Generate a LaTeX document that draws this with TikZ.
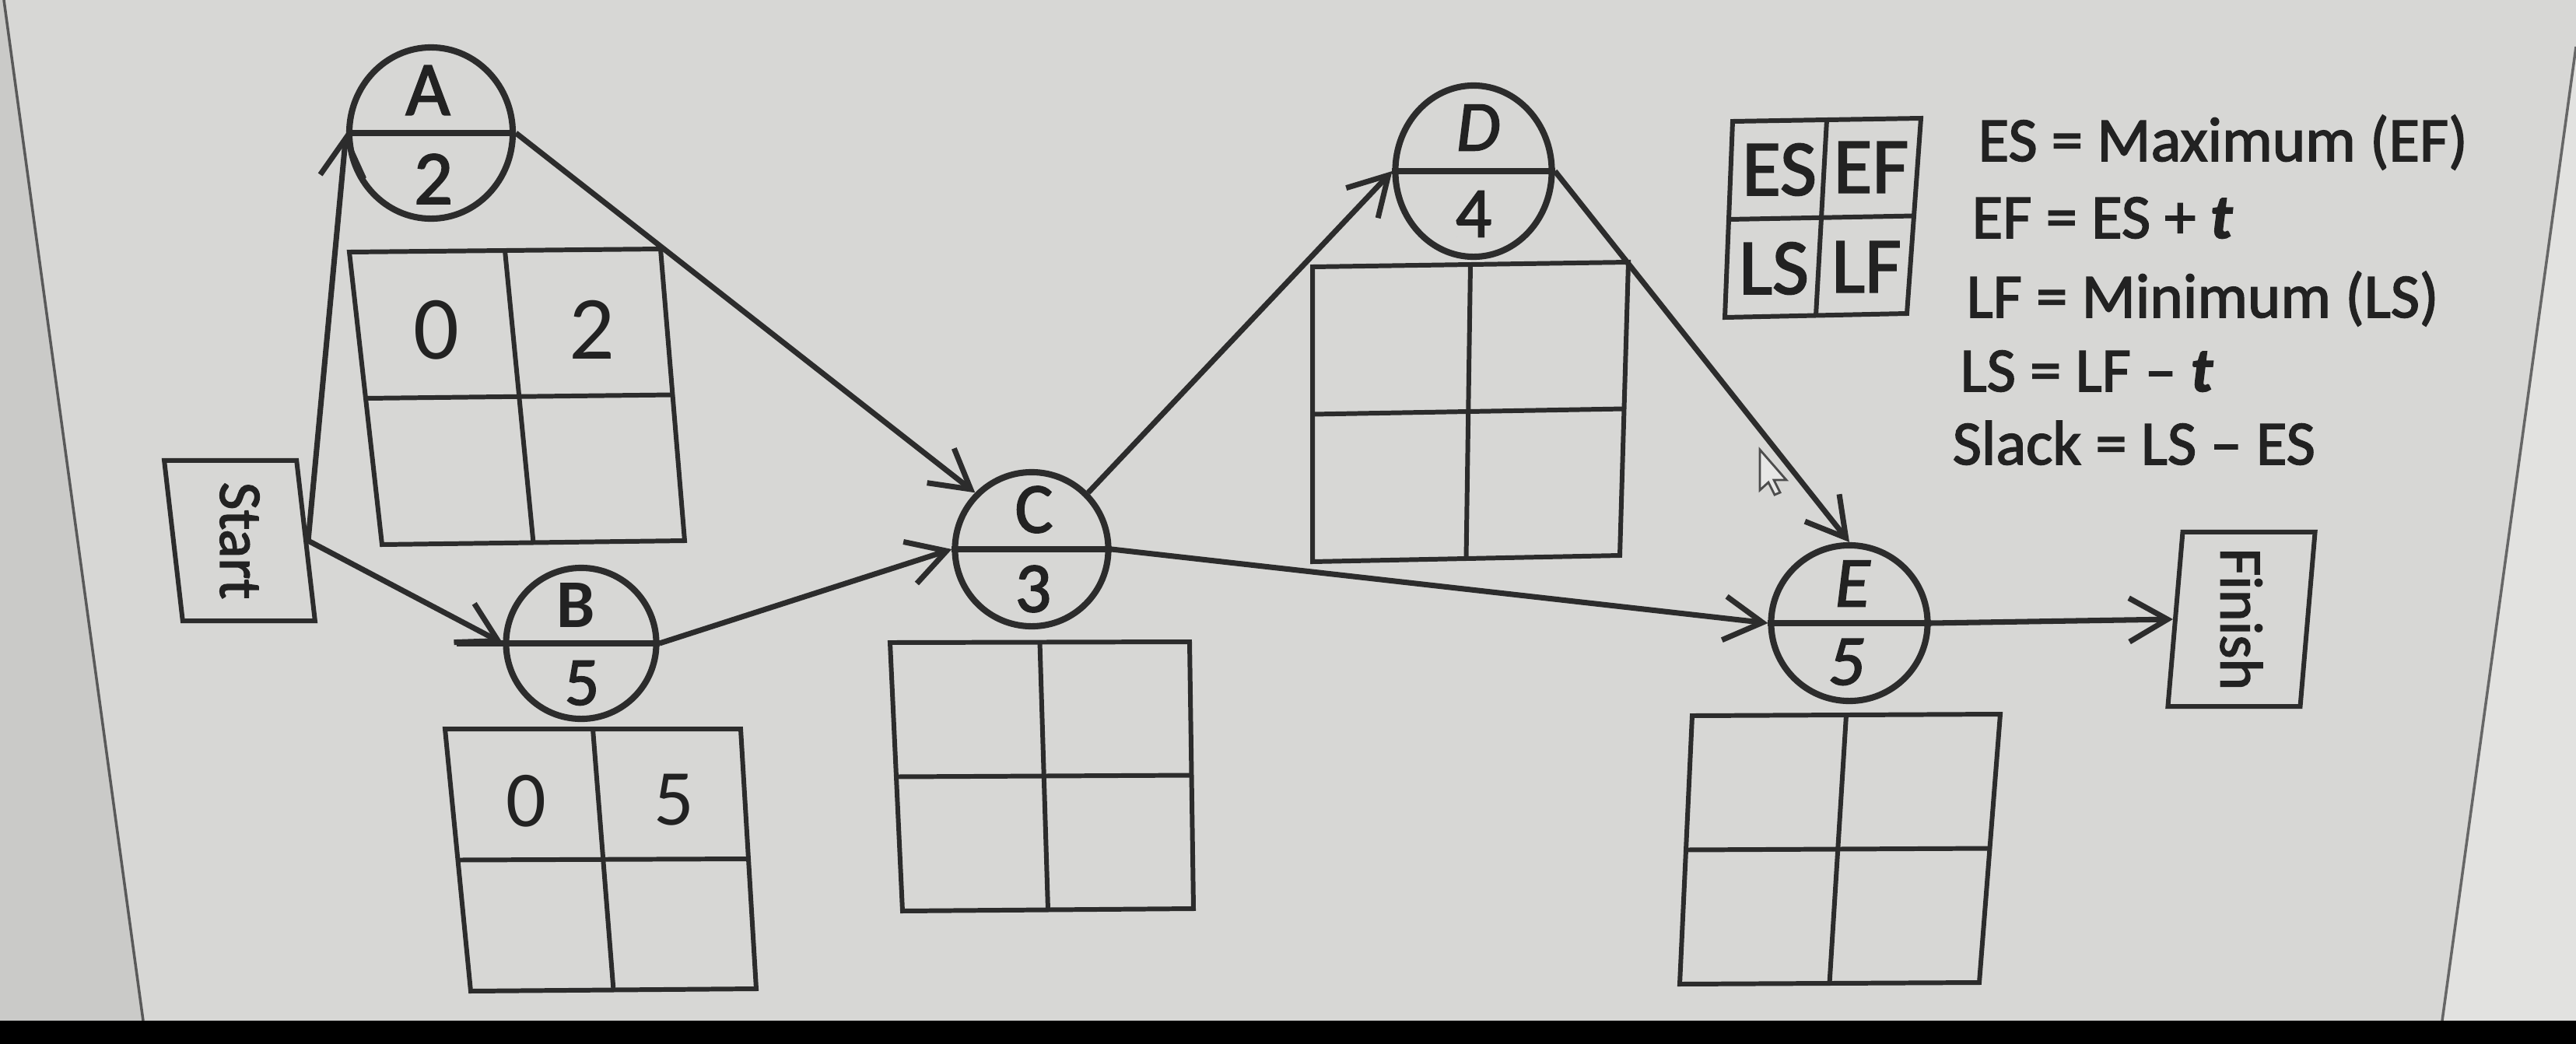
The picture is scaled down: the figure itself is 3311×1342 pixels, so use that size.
\documentclass[tikz,border=0pt]{standalone}
\usepackage{fontspec}
\usepackage{graphicx}
\setmainfont{Carlito}
\newfontfamily\medfont[FakeBold=2]{Carlito}
\usetikzlibrary{shapes.geometric,arrows.meta,calc}
\definecolor{bgmain}{HTML}{D7D7D5}
\definecolor{bgleft}{HTML}{CACAC8}
\definecolor{bgright}{HTML}{E2E2E0}
\definecolor{ink}{HTML}{2C2C2C}
\definecolor{inktext}{HTML}{222222}
\newcommand\pertgrid[4]{%
  \draw[grd] #1 -- #2 -- #3 -- #4 -- cycle;
  \draw[grd] ($#1!0.5!#2$) -- ($#4!0.5!#3$);
  \draw[grd] ($#1!0.5!#4$) -- ($#2!0.5!#3$);}
\newcommand\fs[1]{\fontsize{#1}{#1}\selectfont}
\begin{document}
\begin{tikzpicture}[x=0.01cm,y=-0.01cm]
\tikzset{
  circ/.style={ellipse, draw=ink, line width=2.3pt, inner sep=0pt},
  divl/.style={draw=ink, line width=2.3pt},
  arr/.style={draw=ink, line width=2pt, -{Straight Barb[length=14pt,width=16pt]}},
  grd/.style={draw=ink, line width=1.7pt},
  txt/.style={text=inktext, inner sep=0pt},
  endbox/.style={draw=ink, line width=1.7pt, inner sep=0pt},
  endlbl/.style={txt, rotate=-90, font=\medfont\fs{22pt}},
  eq/.style={txt, font=\medfont\fs{23pt}, anchor=base west},
}
% background (photo of a screen)
\useasboundingbox (0,0) rectangle (3311,1342);
\fill[bgmain] (0,0) rectangle (3311,1342);
\fill[bgleft] (0,0) -- (5,0) -- (184,1312) -- (0,1312) -- cycle;
\fill[bgright] (3311,60) -- (3139,1312) -- (3311,1312) -- cycle;
\draw[gray!70!black, line width=1pt] (5,0) -- (184,1312);
\draw[gray!80!black, line width=1pt] (3311,60) -- (3139,1312);
\fill[black] (0,1312) rectangle (3311,1342);

% start / finish
\node[endbox, xslant=-0.115, minimum width=1.70cm, minimum height=2.06cm] (Start) at (308,695) {};
\node[endlbl] (Startlbl) at (Start.center) {Start};
\node[endbox, xslant=0.085, minimum width=1.70cm, minimum height=2.24cm] (Finish) at (2881,796) {};
\node[endlbl] (Finishlbl) at (Finish.center) {Finish};

% activity circles
\node[circ, minimum width=2.10cm, minimum height=2.20cm] (A) at (554,171) {};
\node[circ, minimum width=1.93cm, minimum height=1.94cm] (B) at (747,827) {};
\node[circ, minimum width=1.97cm, minimum height=1.98cm] (C) at (1326,706) {};
\node[circ, minimum width=2.01cm, minimum height=2.20cm] (D) at (1894,220) {};
\node[circ, minimum width=2.01cm, minimum height=2.00cm] (E) at (2377,801) {};
\draw[divl] (A.west) -- (A.east);
\draw[divl] ($(B.west)+(-59,0)$) -- (B.east);
\draw[divl] (C.west) -- (C.east);
\draw[divl] (D.west) -- (D.east);
\draw[divl] (E.west) -- (E.east);

\node[txt, font=\medfont\fs{28pt}] (Aname) at (550,116) {A};
\node[txt, font=\medfont\fs{28pt}] (Adur) at (557,230) {2};
\node[txt, font=\bfseries\fs{25pt}] (Bname) at (740,778) {B};
\node[txt, font=\medfont\fs{25pt}] (Bdur) at (748,878) {5};
\node[txt, font=\medfont\fs{26pt}] (Cname) at (1329,655) {C};
\node[txt, font=\medfont\fs{26pt}] (Cdur) at (1328,757) {3};
\node[txt, font=\medfont\fs{26pt}\itshape] (Dname) at (1900,164) {D};
\node[txt, font=\medfont\fs{26pt}] (Ddur) at (1894,275) {4};
\node[txt, font=\medfont\fs{26pt}\itshape] (Ename) at (2381,750) {E};
\node[txt, font=\medfont\fs{26pt}\itshape] (Edur) at (2373,851) {5};

% connectors
\draw[arr] (Start.east) -- (A.west);
\draw[arr] (Start.east) -- (B.west);
\draw[arr] (A.east) -- (C.135);
\draw[arr] (B.east) -- (C.west);
\draw[arr] (C.45) -- (D.west);
\draw[arr] (C.east) -- (E.west);
\draw[arr] (D.east) -- (E.north);
\draw[arr] (E.east) -- (Finish.west);

% time grids
\pertgrid{(449,324)}{(849,320)}{(880,695)}{(491,700)}
\pertgrid{(572,937)}{(952,937)}{(972,1271)}{(605,1274)}
\pertgrid{(1144,826)}{(1529,825)}{(1534,1168)}{(1160,1171)}
\pertgrid{(1687,343)}{(2093,337)}{(2082,714)}{(1687,722)}
\pertgrid{(2175,920)}{(2571,918)}{(2544,1263)}{(2159,1265)}
\node[txt, font=\fs{33pt}] (Aes) at (561,424) {0};
\node[txt, font=\fs{33pt}] (Aef) at (761,424) {2};
\node[txt, font=\fs{29pt}] (Bes) at (676,1030) {0};
\node[txt, font=\fs{29pt}] (Bef) at (866,1028) {5};

% legend
\pertgrid{(2227,156)}{(2469,152)}{(2451,403)}{(2217,408)}
\node[txt, font=\medfont\fs{29pt}] (lES) at (2287,218) {ES};
\node[txt, font=\medfont\fs{29pt}] (lEF) at (2405,215) {EF};
\node[txt, font=\medfont\fs{29pt}] (lLS) at (2280,345) {LS};
\node[txt, font=\medfont\fs{29pt}] (lLF) at (2399,343) {LF};
\node[eq] (eq1) at (2542,207) {ES = Maximum (EF)};
\node[eq] (eq2) at (2534,306) {EF = ES + \textbf{\textit{t}}};
\node[eq] (eq3) at (2527,408) {LF = Minimum (LS)};
\node[eq] (eq4) at (2519,503) {LS = LF – \textbf{\textit{t}}};
\node[eq] (eq5) at (2509,597) {Slack = LS – ES};

% mouse pointer
\draw[gray!60!black, line width=0.8pt, fill=bgmain!60!white] (2262,578) -- (2262,630) -- (2273,620) -- (2281,636) -- (2288,633) -- (2280,617) -- (2296,617) -- cycle;
\end{tikzpicture}
\end{document}
